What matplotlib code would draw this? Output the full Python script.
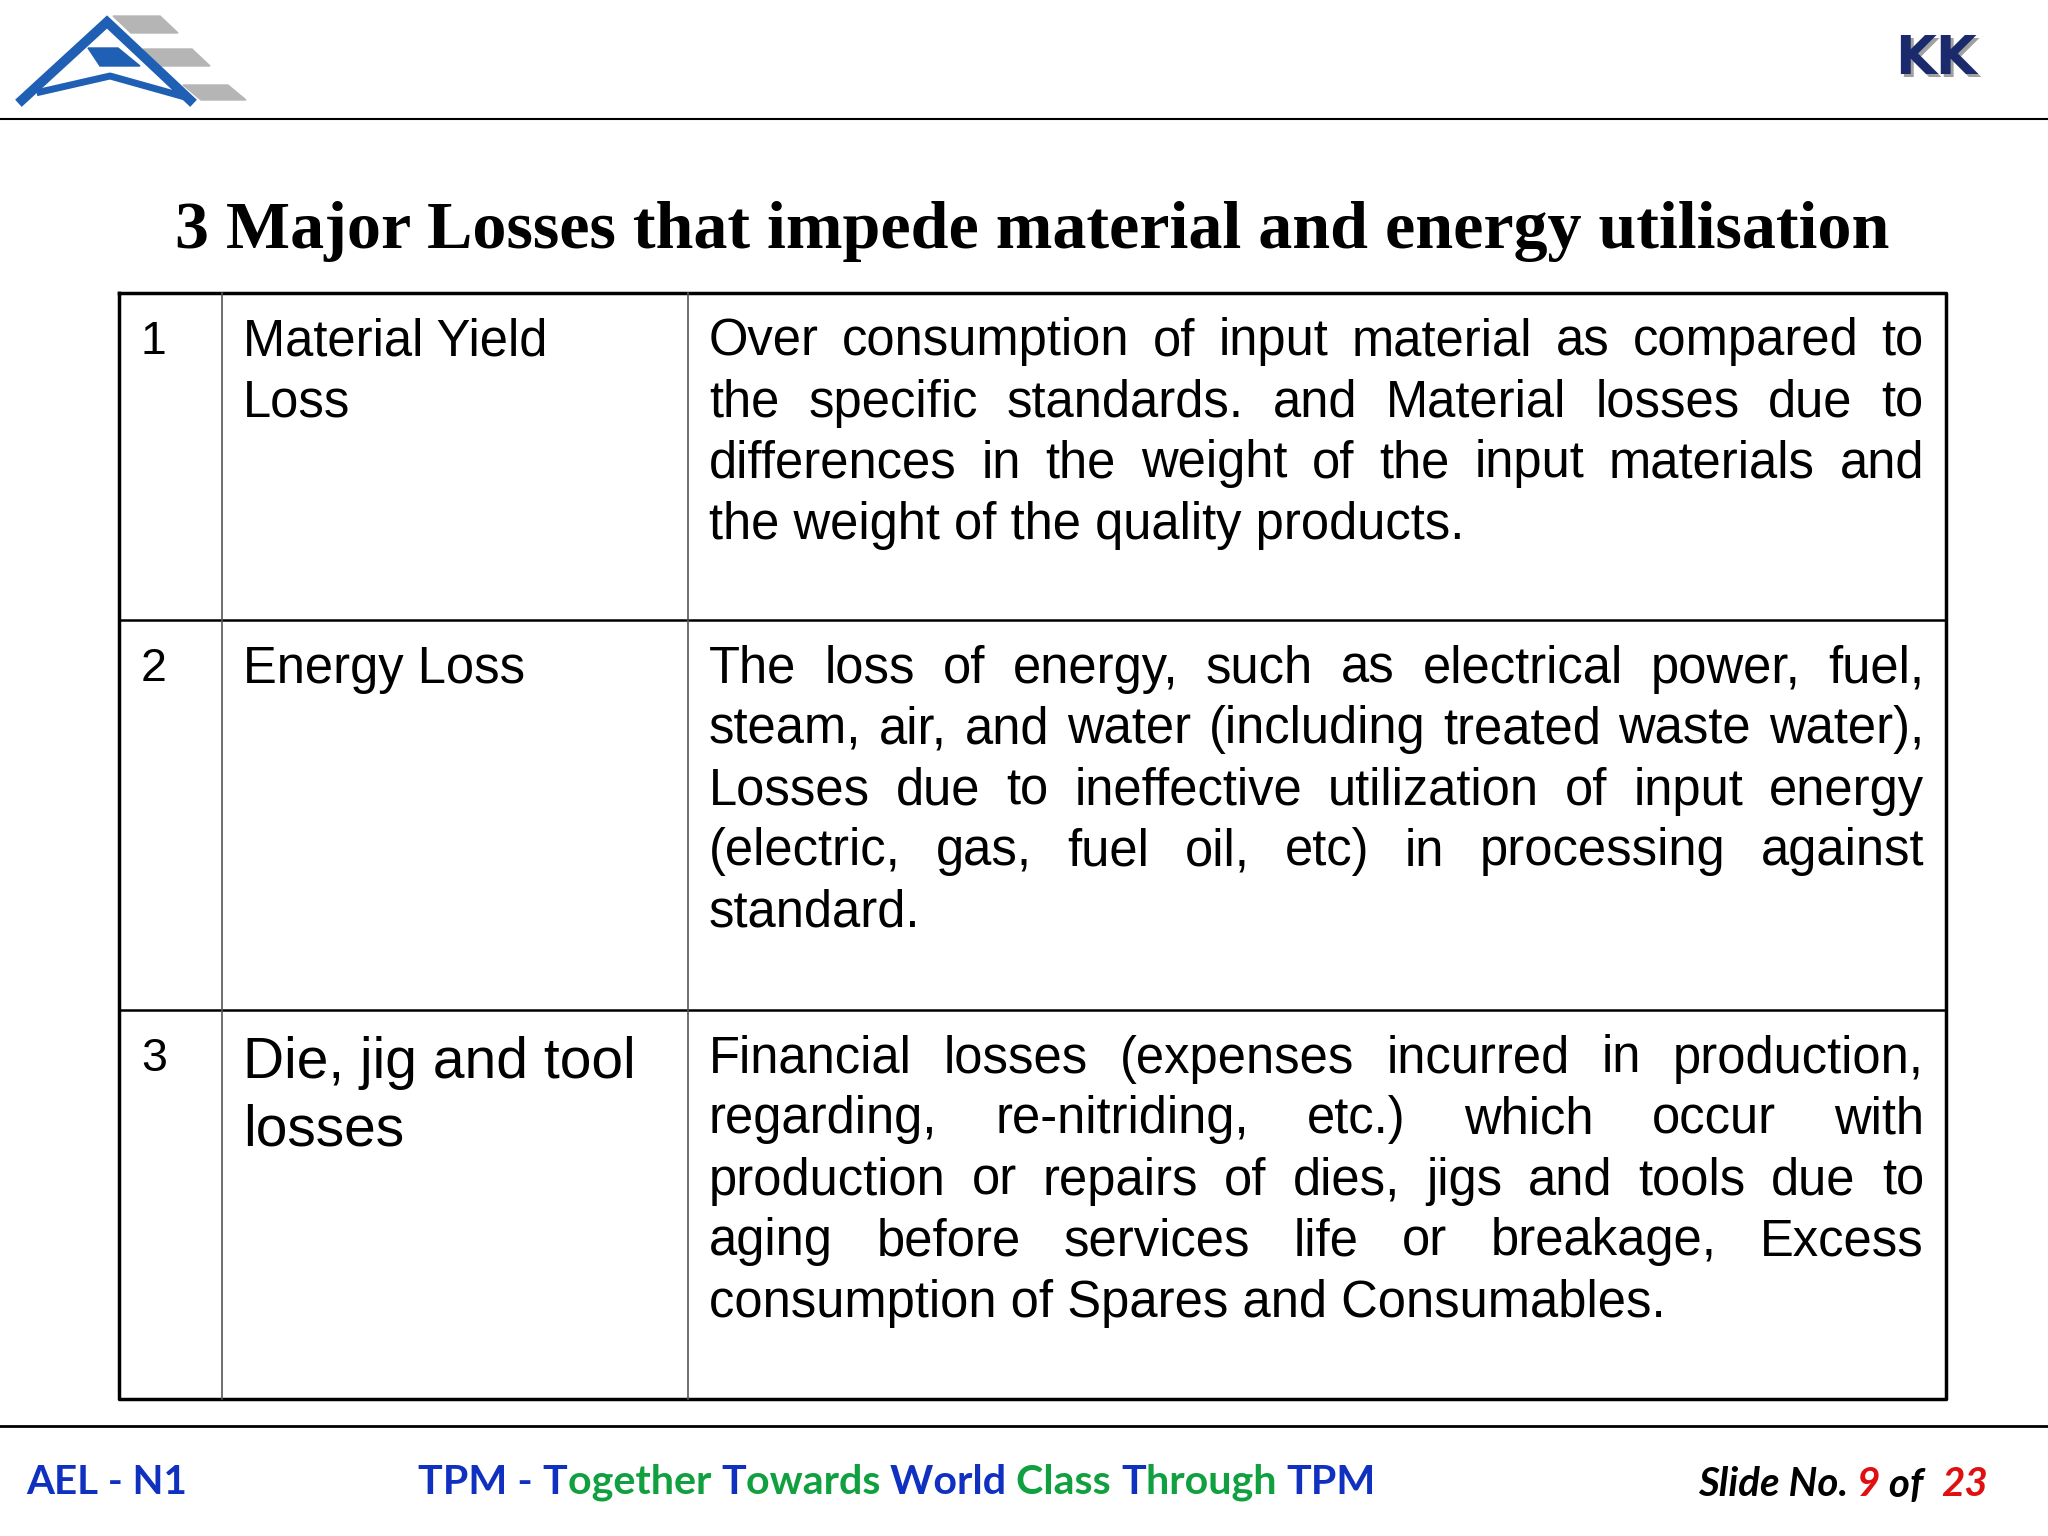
import matplotlib
matplotlib.use("Agg")
import matplotlib.pyplot as plt
from matplotlib.patches import Polygon

W, H = 2048, 1536
title = "3 Major Losses that impede material and energy utilisation"
numbers = ["1", "2", "3"]
names = [["Material Yield", "Loss"], ["Energy Loss"], ["Die, jig and tool", "losses"]]
descriptions = [
    ["Over consumption of input material as compared to",
     "the specific standards. and Material losses due to",
     "differences in the weight of the input materials and",
     "the weight of the quality products."],
    ["The loss of energy, such as electrical power, fuel,",
     "steam, air, and water (including treated waste water),",
     "Losses due to ineffective utilization of input energy",
     "(electric, gas, fuel oil, etc) in processing against",
     "standard."],
    ["Financial losses (expenses incurred in production,",
     "regarding, re-nitriding, etc.) which occur with",
     "production or repairs of dies, jigs and tools due to",
     "aging before services life or breakage, Excess",
     "consumption of Spares and Consumables."],
]
row_edges = [293, 620, 1010, 1399]
col_edges = [119, 222, 688, 1946]

fig = plt.figure(figsize=(W / 100, H / 100), dpi=100)
ax = fig.add_axes([0, 0, 1, 1])
ax.set_xlim(0, W)
ax.set_ylim(H, 0)
ax.axis("off")
r = fig.canvas.get_renderer()

# logo
blue = "#1f5fb4"
ax.plot([22, 107, 190], [100, 22, 100], color=blue, lw=7, solid_joinstyle="miter")
ax.add_patch(Polygon([[88, 48], [118, 48], [140, 66], [100, 66]], color=blue))
ax.plot([40, 110, 185], [92, 76, 97], color=blue, lw=5)
for (y0, y1, x0, x1) in [(16, 33, 113, 160), (49, 66, 143, 192), (85, 100, 183, 228)]:
    ax.add_patch(Polygon([[x0, y0], [x1, y0], [x1 + 18, y1], [x0 + 18, y1]], color="#b5b5b5"))

ax.text(1939, 62, "KK", fontsize=38, weight="bold", color="#a0a0a0", ha="center", va="center",
        family="DejaVu Sans")
ax.text(1936, 59, "KK", fontsize=38, weight="bold", color="#1a2a6c", ha="center", va="center",
        family="DejaVu Sans")

ax.plot([0, W], [119, 119], color="black", lw=1.5)
ax.plot([0, W], [1426, 1426], color="black", lw=2)

ax.text(1032, 232, title, fontsize=49, weight="bold", family="Liberation Serif",
        ha="center", va="center")

# table grid
ax.plot([col_edges[0], col_edges[-1], col_edges[-1], col_edges[0], col_edges[0]],
        [row_edges[0], row_edges[0], row_edges[-1], row_edges[-1], row_edges[0]], color="black", lw=2.5)
for y in row_edges[1:-1]:
    ax.plot([col_edges[0], col_edges[-1]], [y, y], color="black", lw=1.8)
for x in col_edges[1:-1]:
    ax.plot([x, x], [row_edges[0], row_edges[-1]], color="#555555", lw=1.2)

fs = 36.5
lh = 61


def width(s, size, **kw):
    t = ax.text(0, 0, s, fontsize=size, **kw)
    w = t.get_window_extent(r).width
    t.remove()
    return w


x0, x1 = 709, 1924
for i in range(3):
    ytop = row_edges[i] + 49
    ax.text(141, ytop, numbers[i], fontsize=fs - 3, family="Liberation Sans", va="center")
    nsize = 41 if i == 2 else fs
    nlh = 68 if i == 2 else lh
    for k, ln in enumerate(names[i]):
        ax.text(243, ytop + k * nlh + (4 if i == 2 else 0), ln, fontsize=nsize,
                family="Liberation Sans", va="center")
    lines = descriptions[i]
    for k, ln in enumerate(lines):
        y = ytop + k * lh
        words = ln.split()
        if k == len(lines) - 1 or len(words) < 2:
            ax.text(x0, y, ln, fontsize=fs, family="Liberation Sans", va="center")
            continue
        ws = [width(w, fs, family="Liberation Sans") for w in words]
        gap = (x1 - x0 - sum(ws)) / (len(words) - 1)
        x = x0
        for w, wd in zip(words, ws):
            ax.text(x, y, w, fontsize=fs, family="Liberation Sans", va="center")
            x += wd + gap

# footer
fy = 1482
ax.text(26, fy, "AEL - N1", fontsize=29, weight="bold", color="#1030c0", family="Lato", va="center")
parts = [("TPM - ", "#1030c0"), ("T", "#1030c0"), ("ogether ", "#10a040"), ("T", "#1030c0"),
         ("owards ", "#10a040"), ("World ", "#1030c0"), ("Class ", "#10a040"), ("T", "#1030c0"),
         ("hrough ", "#10a040"), ("TPM", "#1030c0")]
x = 418
for s, c in parts:
    t = ax.text(x, fy, s, fontsize=29.7, weight="bold", color=c, family="Lato", va="center")
    x += t.get_window_extent(r).width
parts = [("Slide No. ", "black"), ("9", "#e01010"), (" of  ", "black"), ("23", "#e01010")]
tot = sum(width(s, 29, weight="bold", style="italic", family="Lato") for s, _ in parts)
x = 1988 - tot
for s, c in parts:
    t = ax.text(x, fy + 3, s, fontsize=29, weight="bold", style="italic", color=c,
                family="Lato", va="center")
    x += t.get_window_extent(r).width

fig.savefig("out.png", dpi=100)
